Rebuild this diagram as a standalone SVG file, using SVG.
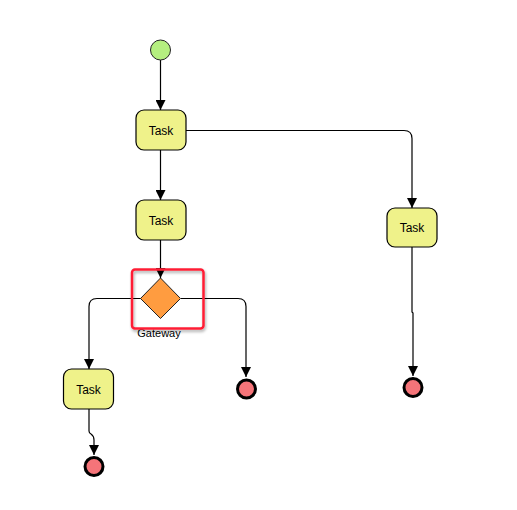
<svg xmlns="http://www.w3.org/2000/svg" width="517" height="510" viewBox="0 0 517 510">
<defs>
<marker id="arr" viewBox="0 0 10 10" refX="10" refY="5" markerWidth="10" markerHeight="10" markerUnits="userSpaceOnUse" orient="auto">
<path d="M0,0 L10,5 L0,10 Z" fill="#000"/>
</marker>
<filter id="sh" x="-20%" y="-20%" width="140%" height="140%">
<feGaussianBlur in="SourceAlpha" stdDeviation="1.5"/>
<feOffset dx="1" dy="1.5" result="b"/>
<feComponentTransfer><feFuncA type="linear" slope="0.35"/></feComponentTransfer>
<feMerge><feMergeNode/><feMergeNode in="SourceGraphic"/></feMerge>
</filter>
</defs>
<style>
.task{fill:#eff28a;stroke:#000;stroke-width:1.2}
.lbl{font-family:"Liberation Sans",Arial,sans-serif;font-size:12px;fill:#000;text-anchor:middle}
.edge{fill:none;stroke:#000;stroke-width:1.2;marker-end:url(#arr)}
.end{fill:#f57479;stroke:#000;stroke-width:3}
</style>
<rect width="517" height="510" fill="#fff"/>
<g id="connectors">
<path class="edge" d="M160.5,60 L160.5,110"/>
<path class="edge" d="M160.5,150 L160.5,200"/>
<path class="edge" d="M160.5,240 L160.5,278"/>
<path class="edge" d="M186,130.5 L404,130.5 Q412,130.5 412,138.5 L412,208"/>
<path class="edge" d="M412,247 L412,312 L413,313 L413,376"/>
<path class="edge" d="M141,298.5 L97,298.5 Q89,298.5 89,306.5 L89,369"/>
<path class="edge" d="M181,298.5 L238,298.5 Q246,298.5 246,306.5 L246,377"/>
<path class="edge" d="M89,409 L89,431 Q89,433 91,434 Q94,436 94,440 L94,455"/>
</g>
<g id="start">
<circle cx="160.5" cy="50" r="10" fill="#b5ef80" stroke="#222" stroke-width="1"/>
</g>
<g id="task1">
<rect class="task" x="136" y="110" width="50" height="40" rx="8"/>
<text class="lbl" x="161" y="134.5">Task</text>
</g>
<g id="task2">
<rect class="task" x="136" y="200" width="50" height="40" rx="8"/>
<text class="lbl" x="161" y="224.5">Task</text>
</g>
<g id="task4">
<rect class="task" x="387" y="208" width="50" height="39" rx="8"/>
<text class="lbl" x="412" y="232">Task</text>
</g>
<g id="task3">
<rect class="task" x="63.5" y="369" width="50" height="40" rx="8"/>
<text class="lbl" x="88.5" y="393.5">Task</text>
</g>
<g id="gateway">
<polygon points="160.5,278 180.5,298.5 160.5,318.5 140.5,298.5" fill="#ff9c40" stroke="#222" stroke-width="1"/>
<text class="lbl" x="159" y="337" style="font-size:11px">Gateway</text>
<rect x="132" y="269.5" width="71.5" height="59" rx="3" fill="none" stroke="#ff1f35" stroke-width="2.5" filter="url(#sh)"/>
</g>
<g id="end1">
<circle class="end" cx="94" cy="466.5" r="9"/>
</g>
<g id="end2">
<circle class="end" cx="246.5" cy="389" r="9"/>
</g>
<g id="end3">
<circle class="end" cx="413" cy="387.5" r="9"/>
</g>
</svg>
